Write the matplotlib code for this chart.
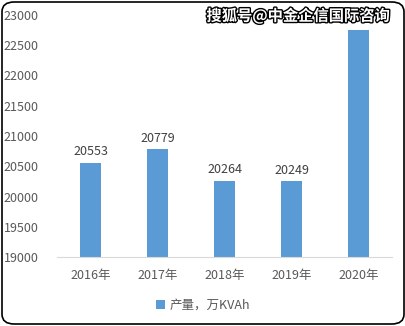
import matplotlib.pyplot as plt
import matplotlib.patheffects as pe
from matplotlib.patches import FancyBboxPatch

plt.rcParams['font.family'] = ['Noto Sans CJK SC', 'DejaVu Sans']

years = ["2016年", "2017年", "2018年", "2019年", "2020年"]
output = [20553, 20779, 20264, 20249, 22750]
labelled = [True, True, True, True, False]
series_name = "产量，万KVAh"
bar_color = "#5B9BD5"
text_color = "#595959"

fig = plt.figure(figsize=(4.06, 3.26), dpi=100)
ax = fig.add_axes([57 / 406, 1 - 257 / 326, 335 / 406, 242 / 326])

x = range(len(years))
bars = ax.bar(x, output, width=0.31, color=bar_color, label=series_name, zorder=2)
for xi, v, show in zip(x, output, labelled):
    if show:
        ax.text(xi, v + 80, str(v), ha="center", va="bottom", fontsize=9, color="#404040")

ax.set_ylim(19000, 23000)
ax.set_yticks(range(19000, 23001, 500))
ax.set_xlim(-0.5, len(years) - 0.5)
ax.set_xticks(list(x))
ax.set_xticklabels(years)
ax.tick_params(axis="both", length=0, labelsize=9, labelcolor=text_color)
ax.tick_params(axis="y", pad=13)
ax.tick_params(axis="x", pad=9)
for side in ["top", "right", "left"]:
    ax.spines[side].set_visible(False)
ax.spines["bottom"].set_color("#D9D9D9")

fig.legend(handles=[bars], labels=[series_name], loc="center", bbox_to_anchor=(0.5, 1 - 305 / 326),
           frameon=False, fontsize=9, labelcolor=text_color, handlelength=0.7, handleheight=0.7,
           handletextpad=0.4)

# watermark
fig.text(298 / 406, 1 - 16 / 326, "搜狐号@中金企信国际咨询", ha="center", va="center",
         fontsize=11, fontweight="bold", color="white",
         path_effects=[pe.withStroke(linewidth=2, foreground="black")])

# rounded frame around the chart
frame = FancyBboxPatch((2 / 406, 2 / 326), 402 / 406, 322 / 326, boxstyle="round,pad=0,rounding_size=0.03",
                       transform=fig.transFigure, fill=False, edgecolor="black", linewidth=1.2)
fig.patches.append(frame)

fig.savefig("out.png", dpi=100)
